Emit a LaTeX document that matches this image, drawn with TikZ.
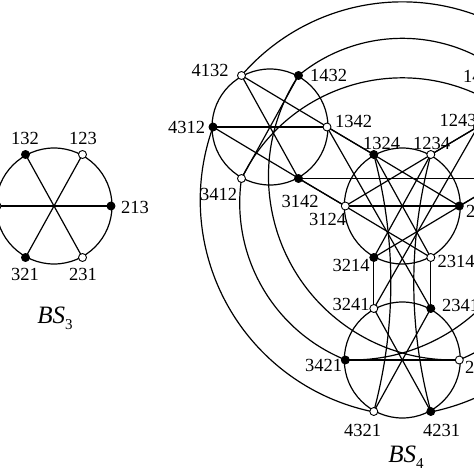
\documentclass[tikz,border=0pt]{standalone}
\usepackage{fontspec}
\setmainfont{Liberation Serif}
\pgfdeclarelayer{bg}
\pgfsetlayers{bg,main}
\begin{document}
\begin{tikzpicture}[x=1pt,y=-1pt,
  edge/.style={line width=1.2pt},
  vb/.style={circle,draw,fill=black,line width=0.9pt,inner sep=0pt,minimum size=8pt},
  vw/.style={circle,draw,fill=white,line width=0.9pt,inner sep=0pt,minimum size=8pt},
  lab/.style={font=\fontsize{18.5}{20}\selectfont,inner sep=0pt},
  ttl/.style={font=\fontsize{25}{27}\selectfont,inner sep=0pt}]
\useasboundingbox (0,0) rectangle (474,474);
\clip (0,0) rectangle (474,474);
% circle centres
\coordinate (c0) at (54,206);
\coordinate (c2) at (270,127);
\coordinate (c4) at (402.3,206);
\coordinate (c1) at (402.3,360);
\coordinate (c3) at (534.6,127);
% BS3 vertices
\node[vb] (v132) at (25.5,154.5) {};
\node[vw] (v123) at (82.5,154.5) {};
\node[vb] (v213) at (111,206) {};
\node[vw] (v231) at (82.5,257.5) {};
\node[vb] (v321) at (25.5,257.5) {};
\node[vw] (v312) at (-3,206) {};
% BS4 : copy ending in 2
\node[vw] (v4132) at (241.5,75.5) {};
\node[vb] (v1432) at (298.5,75.5) {};
\node[vb] (v4312) at (213,127) {};
\node[vw] (v1342) at (327,127) {};
\node[vw] (v3412) at (241.5,178.5) {};
\node[vb] (v3142) at (298.5,178.5) {};
% copy ending in 4
\node[vb] (v1324) at (373.8,154.5) {};
\node[vw] (v1234) at (430.8,154.5) {};
\node[vw] (v3124) at (345.3,206) {};
\node[vb] (v2134) at (459.3,206) {};
\node[vb] (v3214) at (373.8,257.5) {};
\node[vw] (v2314) at (430.8,257.5) {};
% copy ending in 1
\node[vw] (v3241) at (373.8,308.5) {};
\node[vb] (v2341) at (430.8,308.5) {};
\node[vb] (v3421) at (345.3,360) {};
\node[vw] (v2431) at (459.3,360) {};
\node[vw] (v4321) at (373.8,411.5) {};
\node[vb] (v4231) at (430.8,411.5) {};
% copy ending in 3
\node[vw] (v1423) at (506.1,75.5) {};
\node[vb] (v4123) at (563.1,75.5) {};
\node[vb] (v1243) at (477.6,127) {};
\node[vw] (v4213) at (591.6,127) {};
\node[vw] (v2143) at (506.1,178.5) {};
\node[vb] (v2413) at (563.1,178.5) {};
% labels
\node[lab] (t132) at (25,138) {132};
\node[lab] (t123) at (83,138) {123};
\node[lab] (t213) at (135,207) {213};
\node[lab] (t321) at (25,274) {321};
\node[lab] (t231) at (83,274) {231};
\node[lab] (t4132) at (210,70.5) {4132};
\node[lab] (t1432) at (328.5,75) {1432};
\node[lab] (t4312) at (186.5,127.5) {4312};
\node[lab] (t1342) at (353.5,121) {1342};
\node[lab] (t3412) at (218.5,194.5) {3412};
\node[lab] (t3142) at (300,201.5) {3142};
\node[lab] (t1324) at (381.5,143.5) {1324};
\node[lab] (t1234) at (431.5,143.5) {1234};
\node[lab] (t3124) at (327.5,219.5) {3124};
\node[lab] (t2134) at (484.5,211) {2134};
\node[lab] (t3214) at (351,265) {3214};
\node[lab] (t2314) at (456,261.5) {2314};
\node[lab] (t3241) at (351,304.5) {3241};
\node[lab] (t2341) at (460.5,305) {2341};
\node[lab] (t3421) at (323.5,365) {3421};
\node[lab] (t2431) at (483.5,367.5) {2431};
\node[lab] (t4321) at (362.5,430) {4321};
\node[lab] (t4231) at (441.5,430) {4231};
\node[lab] (t1243) at (458,120.5) {1243};
\node[lab] (t1423) at (481.5,76) {1423};
\node[ttl] (bs3) at (55,318) {\textit{BS}\raisebox{-6pt}{\fontsize{15}{15}\selectfont 3}};
\node[ttl] (bs4) at (406,457) {\textit{BS}\raisebox{-6pt}{\fontsize{15}{15}\selectfont 4}};
\begin{pgfonlayer}{bg}
% sub-graph circles
\foreach \c in {c0,c2,c4,c1,c3} \draw[edge] (\c) circle[radius=58];
% BS3 chords
\draw[edge] (v132.center) -- (v231.center);
\draw[edge] (v123.center) -- (v321.center);
\draw[edge] (v312.center) -- (v213.center);
% chords inside BS4 copies
\draw[edge] (v4132.center) -- (v3142.center);
\draw[edge] (v1432.center) -- (v3412.center);
\draw[edge] (v4312.center) -- (v1342.center);
\draw[edge] (v1324.center) -- (v2314.center);
\draw[edge] (v1234.center) -- (v3214.center);
\draw[edge] (v3124.center) -- (v2134.center);
\draw[edge] (v3241.center) -- (v4231.center);
\draw[edge] (v2341.center) -- (v4321.center);
\draw[edge] (v3421.center) -- (v2431.center);
\draw[edge] (v1423.center) -- (v2413.center);
\draw[edge] (v4123.center) -- (v2143.center);
\draw[edge] (v1243.center) -- (v4213.center);
% straight connections between copies
\draw[edge] (v3214.center) -- (v3241.center);
\draw[edge] (v2314.center) -- (v2341.center);
\draw[edge] (v1324.center) -- (v1342.center);
\draw[edge] (v1234.center) -- (v1243.center);
\draw[edge] (v3124.center) -- (v3142.center);
\draw[edge] (v2134.center) -- (v2143.center);
\draw[edge] (v4132.center) -- (v2134.center);
\draw[edge] (v4123.center) -- (v3124.center);
\draw[edge] (v4312.center) -- (v2314.center);
\draw[edge] (v4213.center) -- (v3214.center);
\draw[edge] (v1342.center) -- (v2341.center);
\draw[edge] (v1243.center) -- (v3241.center);
\draw[edge] (v3142.center) -- (v2143.center);
% slightly bent connections
\draw[edge] (v1324.center) .. controls (396.5,240) and (396.5,326) .. (v4321.center);
\draw[edge] (v1234.center) .. controls (408.1,240) and (408.1,326) .. (v4231.center);
% large arcs, left
\draw[edge] (v4312.center) arc[start angle=199.8, end angle=101.4, radius=216];
\draw[edge] (v3412.center) arc[start angle=188.3, end angle=112.1, radius=169.3];
\draw[edge] (v1432.center) arc[start angle=213.2, end angle=87.7, radius=183.8];
% large arcs, right
\draw[edge] (v4213.center) arc[start angle=-19.8, end angle=78.6, radius=216];
\draw[edge] (v2413.center) arc[start angle=-8.3, end angle=67.9, radius=169.3];
\draw[edge] (v1423.center) arc[start angle=-33.2, end angle=92.3, radius=183.8];
% large arcs, top
\draw[edge] (v4132.center) arc[start angle=220.8, end angle=319.2, radius=212.5];
\draw[edge] (v1432.center) arc[start angle=230.6, end angle=309.4, radius=163.6];
\draw[edge] (v3412.center) arc[start angle=205.9, end angle=334.1, radius=178.7];
\end{pgfonlayer}
\end{tikzpicture}
\end{document}
